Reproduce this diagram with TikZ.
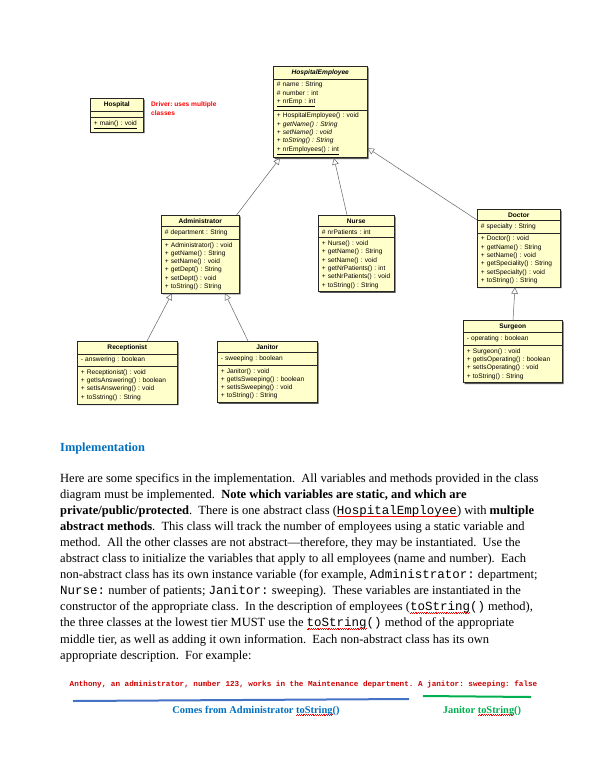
\documentclass[tikz,border=0pt]{standalone}
\usepackage{fontspec}
\setmainfont{Liberation Serif}
\setsansfont{Liberation Sans}
\setmonofont{Liberation Mono}
\usepackage{xcolor}
\usetikzlibrary{shapes.multipart}
\usetikzlibrary{shadows}
\usetikzlibrary{arrows.meta}

\definecolor{umlfill}{RGB}{255,255,204}
\definecolor{headblue}{RGB}{0,112,192}
\definecolor{notegreen}{RGB}{0,176,80}
\definecolor{lineblue}{RGB}{68,114,196}
\definecolor{outred}{RGB}{204,0,0}

\newcommand\umlfont{\sffamily\fontsize{6.6}{8.3}\selectfont}
\newcommand\umltitle[1]{\makebox[\linewidth][c]{\textbf{#1}}}
\newsavebox\wavebox
\newcommand\spellwave[1]{\sbox\wavebox{#1}\rlap{\textcolor{red}{\lower2.6pt\hbox to \wd\wavebox{\xleaders\hbox{\rule{0.9pt}{0.45pt}\rule[0.7pt]{0.9pt}{0.45pt}}\hfil}}}\usebox\wavebox}

\begin{document}
\frenchspacing
\begin{tikzpicture}[x=1pt,y=-1pt,
  umlclass/.style={rectangle split, rectangle split parts=3, draw=black!85,
    line width=0.6pt, fill=umlfill, font=\umlfont, align=left, anchor=north west,
    inner xsep=3.5pt, inner ysep=2.9pt,
    drop shadow={shadow xshift=1.3pt, shadow yshift=-1.3pt, fill=black!65, opacity=1}},
  gen/.style={draw=black!60, line width=0.5pt, -{Triangle[open,length=6.5pt,width=6.5pt]}},
  para/.style={anchor=base west, font=\fontsize{12.5}{14}\selectfont, inner sep=0pt}
  ]
  \useasboundingbox[fill=white] (0,0) rectangle (610,769);

  % class diagram
  \node[umlclass, text width=87pt] (hospemp) at (273,66) {\umltitle{\textit{HospitalEmployee}}
    \nodepart{two}\# name : String\\\# number : int\\\underline{+ nrEmp : int}
    \nodepart{three}+ HospitalEmployee() : void\\\textit{+ getName() : String}\\\textit{+ setName() : void}\\\textit{+ toString() : String}\\\underline{+ nrEmployees() : int}};
  \node[umlclass, text width=46pt] (hospital) at (90,98) {\umltitle{Hospital}
    \nodepart{two}
    \nodepart{three}\underline{+ main() : void}};
  \node[anchor=base west, font=\umlfont\bfseries, text=red, align=left, inner sep=0pt] (driver) at (151,115) {Driver: uses multiple\\classes};

  \node[umlclass, text width=71pt] (admin) at (161,215) {\umltitle{Administrator}
    \nodepart{two}\# department : String
    \nodepart{three}+ Administrator() : void\\+ getName() : String\\+ setName() : void\\+ getDept() : String\\+ setDept() : void\\+ toString() : String};
  \node[umlclass, text width=69pt] (nurse) at (318,215) {\umltitle{Nurse}
    \nodepart{two}\# nrPatients : int
    \nodepart{three}+ Nurse() : void\\+ getName() : String\\+ setName() : void\\+ getNrPatients() : int\\+ setNrPatients() : void\\+ toString() : String};
  \node[umlclass, text width=76pt] (doctor) at (477,209) {\umltitle{Doctor}
    \nodepart{two}\# specialty : String
    \nodepart{three}+ Doctor() : void\\+ getName() : String\\+ setName() : void\\+ getSpeciality() : String\\+ setSpecialty() : void\\+ toString() : String};
  \node[umlclass, text width=92pt] (surgeon) at (463,320) {\umltitle{Surgeon}
    \nodepart{two}- operating : boolean
    \nodepart{three}+ Surgeon() : void\\+ getIsOperating() : boolean\\+ setIsOperating() : void\\+ toString() : String};
  \node[umlclass, text width=93pt] (recep) at (77,341) {\umltitle{Receptionist}
    \nodepart{two}- answering : boolean
    \nodepart{three}+ Receptionist() : void\\+ getIsAnswering() : boolean\\+ setIsAnswering() : void\\+ toSstring() : String};
  \node[umlclass, text width=93pt] (janitor) at (217,341) {\umltitle{Janitor}
    \nodepart{two}- sweeping : boolean
    \nodepart{three}+ Janitor() : void\\+ getIsSweeping() : boolean\\+ setIsSweeping() : void\\+ toString() : String};

  \draw[gen] ([xshift=-3pt]admin.north east) -- ([xshift=7pt]hospemp.south west);
  \draw[gen] ([xshift=29pt]nurse.north west) -- ([xshift=61pt]hospemp.south west);
  \draw[gen] ([yshift=-11pt]doctor.north west) -- ([yshift=10pt]hospemp.south east);
  \draw[gen] ([xshift=70pt]recep.north west) -- ([xshift=11pt]admin.south west);
  \draw[gen] ([xshift=31pt]janitor.north west) -- ([xshift=64pt]admin.south west);
  \draw[gen] ([xshift=50pt]surgeon.north west) -- ([xshift=38pt]doctor.south west);

  % text below the diagram
  \node[para, font=\fontsize{12.4}{15}\selectfont\bfseries, text=headblue] (heading) at (60,451) {Implementation};
  \node[para] (line1) at (60,482) {Here are some specifics in the implementation.~ All variables and methods provided in the class};
  \node[para] (line2) at (60,498.1) {diagram must be implemented.~ \textbf{Note which variables are static, and which are}};
  \node[para] (line3) at (60,514.2) {\textbf{private/public/protected}.~ There is one abstract class (\texttt{\spellwave{HospitalEmployee}}) with \textbf{multiple}};
  \node[para] (line4) at (60,530.3) {\textbf{abstract methods}.~ This class will track the number of employees using a static variable and};
  \node[para] (line5) at (60,546.4) {method.~ All the other classes are not abstract—therefore, they may be instantiated.~ Use the};
  \node[para] (line6) at (60,562.5) {abstract class to initialize the variables that apply to all employees (name and number).~ Each};
  \node[para] (line7) at (60,578.6) {non-abstract class has its own instance variable (for example, \texttt{Administrator:} department;};
  \node[para] (line8) at (60,594.7) {\texttt{Nurse:} number of patients; \texttt{Janitor:} sweeping).~ These variables are instantiated in the};
  \node[para] (line9) at (60,610.8) {constructor of the appropriate class.~ In the description of employees (\texttt{\spellwave{toString}()} method),};
  \node[para] (line10) at (60,626.9) {the three classes at the lowest tier MUST use the \texttt{\spellwave{toString}()} method of the appropriate};
  \node[para] (line11) at (60,643) {middle tier, as well as adding it own information.~ Each non-abstract class has its own};
  \node[para] (line12) at (60,659.1) {appropriate description.~ For example:};

  \node[anchor=base, font=\ttfamily\bfseries\fontsize{7.64}{9}\selectfont, text=outred, inner sep=0pt] (output) at (303.5,686) {Anthony, an administrator, number 123, works in the Maintenance department. A janitor: sweeping: false};

  \coordinate (adminstart) at (73,701);
  \coordinate (adminend) at (409,699);
  \coordinate (janstart) at (423,696);
  \coordinate (janend) at (531,697);
  \draw[lineblue, line width=2pt] (adminstart) -- (adminend);
  \draw[notegreen, line width=2pt] (janstart) -- (janend);
  \node[anchor=base, font=\bfseries\fontsize{10.4}{12}\selectfont, text=headblue, inner sep=0pt] (adminnote) at (256,713) {Comes from Administrator \spellwave{toString}()};
  \node[anchor=base, font=\bfseries\fontsize{10.4}{12}\selectfont, text=notegreen, inner sep=0pt] (jannote) at (482,713) {Janitor \spellwave{toString}()};
\end{tikzpicture}
\end{document}
